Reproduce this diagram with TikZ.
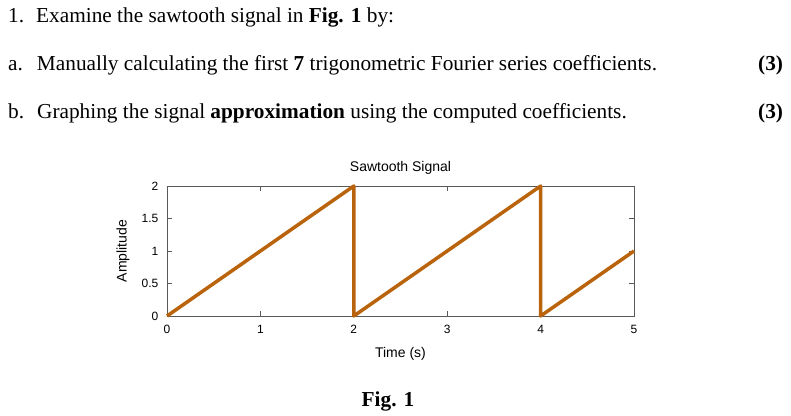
\documentclass[tikz,border=0pt]{standalone}
\usepackage{fontspec}
\setmainfont{Liberation Serif}
\newfontfamily\plotfont{Liberation Sans}
\definecolor{saw}{RGB}{185,100,12}
\begin{document}
\begin{tikzpicture}[x=1pt,y=-1pt,
  txt/.style={anchor=base west,inner sep=0pt,font=\fontsize{21.3}{24}\selectfont},
  tick/.style={font=\plotfont\fontsize{12}{14}\selectfont,inner sep=1pt},
  lbl/.style={font=\plotfont\fontsize{14}{16}\selectfont,inner sep=0pt}]
\useasboundingbox (0,0) rectangle (791,415);
\node[txt] (l1) at (8,22) {1.\hspace{12pt}Examine the sawtooth signal in \textbf{Fig. 1} by:};
\node[txt] (la) at (8,70) {a.\hspace{14pt}Manually calculating the first \textbf{7} trigonometric Fourier series coefficients.};
\node[txt] (ra) at (758,70) {\textbf{(3)}};
\node[txt] (lb) at (8,118) {b.\hspace{13pt}Graphing the signal \textbf{approximation} using the computed coefficients.};
\node[txt] (rb) at (758,118) {\textbf{(3)}};
\begin{scope}[shift={(167,316)},x=93.4pt,y=65pt]
\draw[gray!70!black,line width=0.6pt] (0,0) rectangle (5,2);
\foreach \i in {0,...,5}{
  \draw[gray!70!black,line width=0.5pt] (\i,0) -- (\i,0.07) (\i,2) -- (\i,1.93);
  \node[tick,anchor=north] (xt\i) at (\i,-0.12) {\i};}
\foreach \v/\t in {0/0,0.5/0.5,1/1,1.5/1.5,2/2}{
  \draw[gray!70!black,line width=0.5pt] (0,\v) -- (0.05,\v) (5,\v) -- (4.95,\v);
  \node[tick,anchor=east] at (-0.08,\v) {\t};}
\draw[saw,line width=3.5pt,line join=round] (0,0) -- (2,2) -- (2,0) -- (4,2) -- (4,0) -- (5,1);
\node[lbl] (title) at (2.5,2.28) {Sawtooth Signal};
\node[lbl] (xl) at (2.5,-0.58) {Time (s)};
\node[lbl,rotate=90] (yl) at (-0.47,1) {Amplitude};
\end{scope}
\node[txt,anchor=base] (cap) at (388,406) {\textbf{Fig. 1}};
\end{tikzpicture}
\end{document}
